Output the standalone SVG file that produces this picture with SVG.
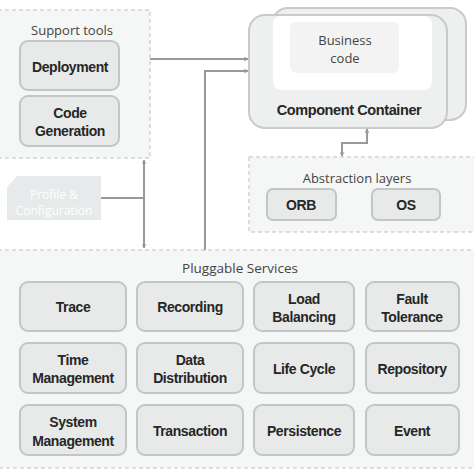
<svg xmlns="http://www.w3.org/2000/svg" width="474" height="474" viewBox="0 0 474 474">
<style>
.grp{fill:#f5f6f6;stroke:#d2d4d4;stroke-width:1.5;stroke-dasharray:4 3}
.box{fill:#e8eaea;stroke:#c4c6c6;stroke-width:2}
.bt{font-family:"Liberation Sans",Arial,sans-serif;font-weight:bold;font-size:14px;fill:#262626;text-anchor:middle;letter-spacing:-0.4px}
.lt{font-family:"Open Sans","Liberation Sans",sans-serif;font-size:13px;fill:#444;text-anchor:middle}
.con{fill:none;stroke:#999;stroke-width:2}
</style>
<defs>
<marker id="arr" viewBox="0 0 10 10" refX="9" refY="5" markerWidth="5" markerHeight="5" orient="auto-start-reverse" markerUnits="userSpaceOnUse">
<path d="M1,1 L9,5 L1,9" fill="none" stroke="#999" stroke-width="1.6"/>
</marker>
</defs>
<rect width="474" height="474" fill="#fff"/>

<g id="support-tools">
<rect class="grp" x="-2" y="10" width="152" height="148"/>
<text class="lt" x="72" y="35">Support tools</text>
</g>
<g id="deployment">
<rect class="box" x="20" y="41" width="99" height="49" rx="8"/>
<text class="bt" x="70" y="72">Deployment</text>
</g>
<g id="code-generation">
<rect class="box" x="20" y="96" width="99" height="50" rx="8"/>
<text class="bt" x="70" y="118">Code</text>
<text class="bt" x="70" y="136">Generation</text>
</g>

<g id="profile-configuration">
<path d="M17,176 L101,176 L101,220 L7,220 L7,187 Z" fill="#e6eaea"/>
<text class="lt" x="54" y="199" style="fill:#fff;font-size:12px">Profile &amp;</text>
<text class="lt" x="54" y="215" style="fill:#fff;font-size:12px">Configuration</text>
</g>

<g id="component-container">
<rect x="272" y="8" width="194" height="112" rx="16" fill="#eeefef" stroke="#c9cbcb" stroke-width="2"/>
<rect x="249" y="15" width="198" height="113" rx="16" fill="#eeefef" stroke="#c9cbcb" stroke-width="2"/>
<rect x="273" y="16" width="159" height="74" rx="8" fill="#fff"/>
<text class="bt" x="349" y="115" style="font-size:14.5px">Component Container</text>
</g>
<g id="business-code">
<rect x="290" y="22" width="109" height="51" rx="6" fill="#f3f3f3"/>
<text class="lt" x="345" y="45">Business</text>
<text class="lt" x="345" y="63">code</text>
</g>

<g id="abstraction-layers">
<rect class="grp" x="249" y="157" width="228" height="75"/>
<text class="lt" x="357" y="183">Abstraction layers</text>
</g>
<g id="orb">
<rect class="box" x="267" y="189" width="69" height="31" rx="6"/>
<text class="bt" x="301" y="210">ORB</text>
</g>
<g id="os">
<rect class="box" x="372" y="189" width="68" height="31" rx="6"/>
<text class="bt" x="406" y="210">OS</text>
</g>

<g id="pluggable-services">
<rect class="grp" x="-2" y="250" width="478" height="218"/>
<text class="lt" x="240" y="273" style="font-size:13.5px">Pluggable Services</text>
</g>
<g id="trace"><rect class="box" x="20" y="282" width="106" height="49" rx="8"/><text class="bt" x="73" y="312">Trace</text></g>
<g id="recording"><rect class="box" x="137" y="282" width="106" height="49" rx="8"/><text class="bt" x="190" y="312">Recording</text></g>
<g id="load-balancing"><rect class="box" x="254" y="282" width="100" height="49" rx="8"/><text class="bt" x="304" y="304">Load</text><text class="bt" x="304" y="322">Balancing</text></g>
<g id="fault-tolerance"><rect class="box" x="366" y="282" width="93" height="49" rx="8"/><text class="bt" x="412" y="304">Fault</text><text class="bt" x="412" y="322">Tolerance</text></g>

<g id="time-management"><rect class="box" x="20" y="343" width="106" height="50" rx="8"/><text class="bt" x="73" y="365">Time</text><text class="bt" x="73" y="383">Management</text></g>
<g id="data-distribution"><rect class="box" x="137" y="343" width="106" height="50" rx="8"/><text class="bt" x="190" y="365">Data</text><text class="bt" x="190" y="383">Distribution</text></g>
<g id="life-cycle"><rect class="box" x="254" y="343" width="100" height="50" rx="8"/><text class="bt" x="304" y="374">Life Cycle</text></g>
<g id="repository"><rect class="box" x="366" y="343" width="93" height="50" rx="8"/><text class="bt" x="412" y="374">Repository</text></g>

<g id="system-management"><rect class="box" x="20" y="405" width="106" height="50" rx="8"/><text class="bt" x="73" y="427">System</text><text class="bt" x="73" y="446">Management</text></g>
<g id="transaction"><rect class="box" x="137" y="405" width="106" height="50" rx="8"/><text class="bt" x="190" y="436">Transaction</text></g>
<g id="persistence"><rect class="box" x="254" y="405" width="100" height="50" rx="8"/><text class="bt" x="304" y="436">Persistence</text></g>
<g id="event"><rect class="box" x="366" y="405" width="93" height="50" rx="8"/><text class="bt" x="412" y="436">Event</text></g>

<g id="connectors">
<path class="con" d="M150,59 L248,59" marker-end="url(#arr)"/>
<path class="con" d="M205,250 L205,71 L248,71" marker-end="url(#arr)"/>
<path class="con" d="M101,198 L144,198"/>
<path class="con" d="M144,160 L144,248" marker-start="url(#arr)" marker-end="url(#arr)"/>
<path class="con" d="M342,156 L342,143 L367,143 L367,129" marker-start="url(#arr)" marker-end="url(#arr)"/>
</g>
</svg>
